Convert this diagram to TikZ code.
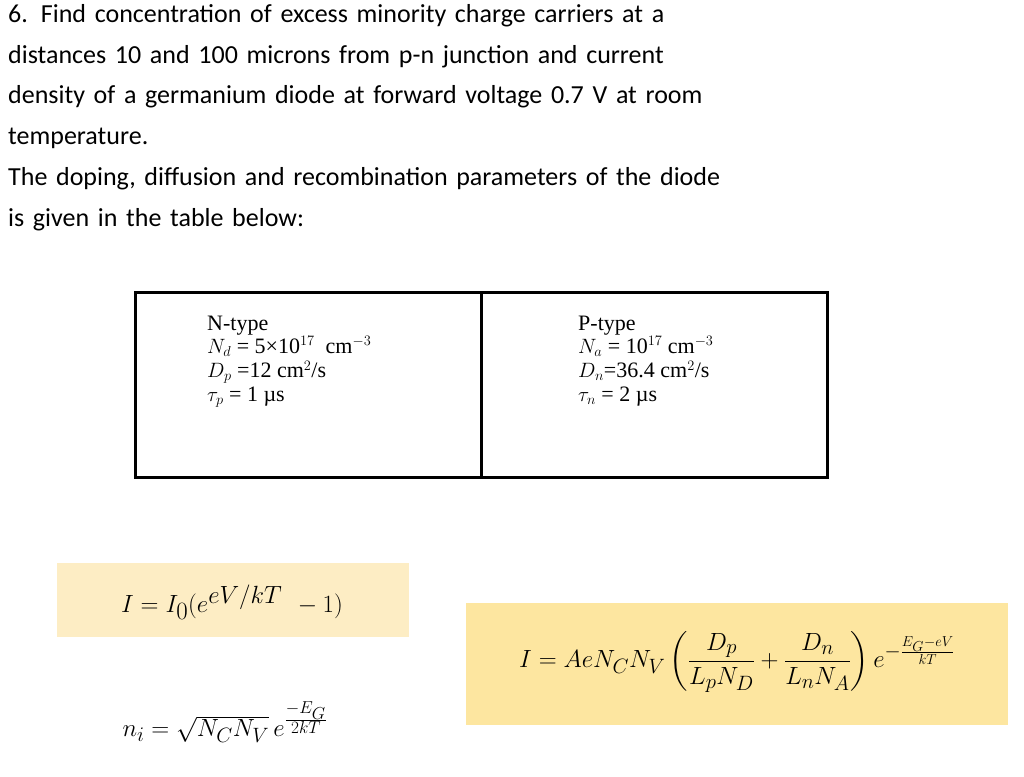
\documentclass[tikz,border=0pt]{standalone}
\usepackage{amsmath}
\usepackage{fontspec}
\setmainfont{Liberation Serif}
\newfontfamily\hfont{Carlito}
\definecolor{hlA}{RGB}{253,237,196}
\definecolor{hlB}{RGB}{253,230,160}
\begin{document}
\begin{tikzpicture}[x=1pt,y=-1pt,
  head/.style={anchor=north west,inner sep=0pt,align=left,font=\hfont\fontsize{26}{40.8}\selectfont,text width=1010pt},
  cell/.style={anchor=north west,inner sep=0pt,align=left,font=\fontsize{22}{22.5}\selectfont}]
\useasboundingbox[fill=white] (0,0) rectangle (1024,776);
\node[head] (q) at (8,4) {6. Find concentration of excess minority charge carriers at a\\distances 10 and 100 microns from p-n junction and current\\density of a germanium diode at forward voltage 0.7 V at room\\temperature.\\The doping, diffusion and recombination parameters of the diode\\is given in the table below:};
\draw[line width=3pt] (135,292) rectangle (827,477);
\draw[line width=3pt] (481,292) -- (481,477);
\node[cell] (n) at (207,316) {N-type\\$N_d$ = 5×10$^{17}$ \ cm$^{-3}$\\[2pt]$D_p$ =12 cm$^2$/s\\[1pt]$\tau_p$ = 1 µs};
\node[cell] (p) at (578,316) {P-type\\$N_a$ = 10$^{17}$ cm$^{-3}$\\[2pt]$D_n$=36.4 cm$^2$/s\\[1pt]$\tau_n$ = 2 µs};
\fill[hlA] (57,563) rectangle (409,637);
\node[inner sep=0pt,font=\fontsize{40}{40}\selectfont] (e1) at (232,602) {$I = I_0(e^{eV/kT}\ -1)$};
\fill[hlB] (466,603) rectangle (1008,725);
\node[inner sep=0pt,font=\fontsize{30}{30}\selectfont] (e2) at (737,662) {$I = AeN_C N_V\left(\dfrac{D_p}{L_pN_D}+\dfrac{D_n}{L_nN_A}\right)e^{-\frac{E_G-eV}{kT}}$};
\node[inner sep=0pt,font=\fontsize{32}{32}\selectfont] (e3) at (225,722) {$n_i = \sqrt{N_C N_V}\,e^{\frac{-E_G}{2kT}}$};
\end{tikzpicture}
\end{document}
